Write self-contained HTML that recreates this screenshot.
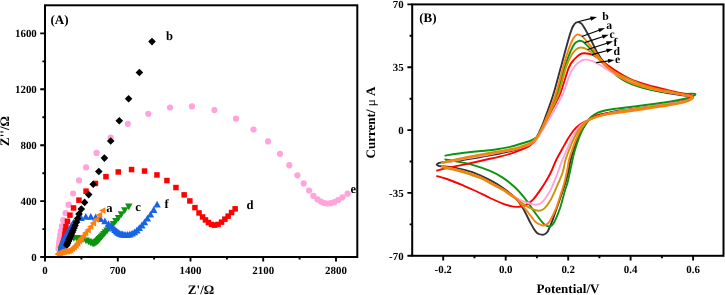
<!DOCTYPE html>
<html><head><meta charset="utf-8"><title>EIS and CV</title>
<style>
html,body{margin:0;padding:0;background:#fff}
svg{display:block}
text{text-rendering:geometricPrecision;font-family:"Liberation Serif",serif;font-weight:bold;fill:#000}
</style></head><body>
<svg width="725" height="295" viewBox="0 0 725 295">
<rect width="725" height="295" fill="#fff"/>
<!-- Panel A -->
<g fill="#ffa3da"><circle cx="347.6" cy="193.7" r="3.1"/><circle cx="342.5" cy="197.3" r="3.1"/><circle cx="338.1" cy="200.0" r="3.1"/><circle cx="334.3" cy="202.2" r="3.1"/><circle cx="330.8" cy="203.2" r="3.1"/><circle cx="327.5" cy="203.5" r="3.1"/><circle cx="324.3" cy="203.0" r="3.1"/><circle cx="321.0" cy="201.6" r="3.1"/><circle cx="317.5" cy="199.4" r="3.1"/><circle cx="313.4" cy="195.9" r="3.1"/><circle cx="309.1" cy="190.5" r="3.1"/><circle cx="303.7" cy="183.4" r="3.1"/><circle cx="297.4" cy="175.3" r="3.1"/><circle cx="289.3" cy="165.2" r="3.1"/><circle cx="280.0" cy="153.8" r="3.1"/><circle cx="268.0" cy="141.4" r="3.1"/><circle cx="253.5" cy="129.5" r="3.1"/><circle cx="236.0" cy="118.7" r="3.1"/><circle cx="214.4" cy="110.1" r="3.1"/><circle cx="192.0" cy="106.4" r="3.1"/><circle cx="170.0" cy="107.5" r="3.1"/><circle cx="148.3" cy="113.8" r="3.1"/><circle cx="127.8" cy="123.8" r="3.1"/><circle cx="110.7" cy="137.6" r="3.1"/><circle cx="96.6" cy="152.9" r="3.1"/><circle cx="86.1" cy="167.4" r="3.1"/><circle cx="79.0" cy="180.4" r="3.1"/><circle cx="73.1" cy="193.5" r="3.1"/><circle cx="68.6" cy="204.7" r="3.1"/><circle cx="65.6" cy="213.2" r="3.1"/><circle cx="63.2" cy="220.2" r="3.1"/><circle cx="61.9" cy="226.1" r="3.1"/><circle cx="60.8" cy="230.9" r="3.1"/><circle cx="60.2" cy="234.9" r="3.1"/><circle cx="59.8" cy="238.3" r="3.1"/><circle cx="59.5" cy="241.0" r="3.1"/><circle cx="59.2" cy="243.2" r="3.1"/><circle cx="59.0" cy="245.0" r="3.1"/><circle cx="58.9" cy="246.5" r="3.1"/><circle cx="58.7" cy="247.8" r="3.1"/><circle cx="58.6" cy="249.0" r="3.1"/></g>
<g fill="#ff0000"><rect x="232.4" y="206.1" width="5.5" height="5.5"/><rect x="228.8" y="209.8" width="5.5" height="5.5"/><rect x="225.4" y="213.4" width="5.5" height="5.5"/><rect x="222.1" y="216.4" width="5.5" height="5.5"/><rect x="218.8" y="219.4" width="5.5" height="5.5"/><rect x="215.3" y="221.7" width="5.5" height="5.5"/><rect x="211.9" y="222.4" width="5.5" height="5.5"/><rect x="208.7" y="221.7" width="5.5" height="5.5"/><rect x="205.7" y="219.8" width="5.5" height="5.5"/><rect x="202.7" y="217.2" width="5.5" height="5.5"/><rect x="199.8" y="214.2" width="5.5" height="5.5"/><rect x="196.3" y="210.2" width="5.5" height="5.5"/><rect x="192.2" y="204.9" width="5.5" height="5.5"/><rect x="187.1" y="198.2" width="5.5" height="5.5"/><rect x="181.4" y="192.1" width="5.5" height="5.5"/><rect x="173.2" y="184.8" width="5.5" height="5.5"/><rect x="164.2" y="177.8" width="5.5" height="5.5"/><rect x="154.2" y="172.2" width="5.5" height="5.5"/><rect x="141.8" y="168.3" width="5.5" height="5.5"/><rect x="128.8" y="166.8" width="5.5" height="5.5"/><rect x="115.5" y="169.2" width="5.5" height="5.5"/><rect x="103.2" y="173.9" width="5.5" height="5.5"/><rect x="92.7" y="180.7" width="5.5" height="5.5"/><rect x="83.3" y="188.4" width="5.5" height="5.5"/><rect x="76.2" y="197.4" width="5.5" height="5.5"/><rect x="70.8" y="205.2" width="5.5" height="5.5"/><rect x="67.2" y="212.4" width="5.5" height="5.5"/><rect x="64.7" y="218.5" width="5.5" height="5.5"/><rect x="63.2" y="223.7" width="5.5" height="5.5"/><rect x="62.6" y="228.0" width="5.5" height="5.5"/><rect x="62.2" y="231.6" width="5.5" height="5.5"/><rect x="61.9" y="234.6" width="5.5" height="5.5"/><rect x="61.4" y="236.9" width="5.5" height="5.5"/><rect x="60.9" y="238.8" width="5.5" height="5.5"/><rect x="60.4" y="240.4" width="5.5" height="5.5"/><rect x="60.0" y="241.7" width="5.5" height="5.5"/><rect x="59.7" y="242.8" width="5.5" height="5.5"/><rect x="59.3" y="244.0" width="5.5" height="5.5"/><rect x="59.0" y="245.1" width="5.5" height="5.5"/><rect x="58.7" y="246.3" width="5.5" height="5.5"/><rect x="58.3" y="247.5" width="5.5" height="5.5"/></g>
<g fill="#0c930f"><path d="M61.2 254.0l3.7 -6.8h-7.4z"/><path d="M61.6 253.3l3.7 -6.8h-7.4z"/><path d="M61.9 252.6l3.7 -6.8h-7.4z"/><path d="M62.3 251.8l3.7 -6.8h-7.4z"/><path d="M62.7 251.1l3.7 -6.8h-7.4z"/><path d="M63.1 250.4l3.7 -6.8h-7.4z"/><path d="M63.4 249.7l3.7 -6.8h-7.4z"/><path d="M63.8 249.0l3.7 -6.8h-7.4z"/><path d="M64.3 248.3l3.7 -6.8h-7.4z"/><path d="M64.8 247.5l3.7 -6.8h-7.4z"/><path d="M65.3 246.5l3.7 -6.8h-7.4z"/><path d="M66.0 245.4l3.7 -6.8h-7.4z"/><path d="M66.9 244.3l3.7 -6.8h-7.4z"/><path d="M68.0 243.1l3.7 -6.8h-7.4z"/><path d="M69.5 242.2l3.7 -6.8h-7.4z"/><path d="M71.5 241.8l3.7 -6.8h-7.4z"/><path d="M73.9 241.7l3.7 -6.8h-7.4z"/><path d="M76.6 241.9l3.7 -6.8h-7.4z"/><path d="M79.7 242.1l3.7 -6.8h-7.4z"/><path d="M83.0 243.1l3.7 -6.8h-7.4z"/><path d="M86.0 244.2l3.7 -6.8h-7.4z"/><path d="M88.5 245.3l3.7 -6.8h-7.4z"/><path d="M90.5 246.3l3.7 -6.8h-7.4z"/><path d="M92.3 246.9l3.7 -6.8h-7.4z"/><path d="M93.8 247.2l3.7 -6.8h-7.4z"/><path d="M94.9 246.7l3.7 -6.8h-7.4z"/><path d="M95.9 246.1l3.7 -6.8h-7.4z"/><path d="M96.9 245.4l3.7 -6.8h-7.4z"/><path d="M97.8 244.6l3.7 -6.8h-7.4z"/><path d="M98.6 243.7l3.7 -6.8h-7.4z"/><path d="M99.4 242.8l3.7 -6.8h-7.4z"/><path d="M100.3 241.7l3.7 -6.8h-7.4z"/><path d="M101.4 240.5l3.7 -6.8h-7.4z"/><path d="M102.6 239.2l3.7 -6.8h-7.4z"/><path d="M103.9 237.7l3.7 -6.8h-7.4z"/><path d="M105.4 236.1l3.7 -6.8h-7.4z"/><path d="M107.1 234.3l3.7 -6.8h-7.4z"/><path d="M109.0 232.3l3.7 -6.8h-7.4z"/><path d="M111.0 230.1l3.7 -6.8h-7.4z"/><path d="M113.4 227.7l3.7 -6.8h-7.4z"/><path d="M115.8 224.8l3.7 -6.8h-7.4z"/><path d="M118.5 221.7l3.7 -6.8h-7.4z"/><path d="M121.4 218.1l3.7 -6.8h-7.4z"/><path d="M124.7 214.1l3.7 -6.8h-7.4z"/><path d="M128.8 210.2l3.7 -6.8h-7.4z"/></g>
<g fill="#1863e6"><path d="M60.5 247.5l3.7 6.8h-7.4z"/><path d="M60.8 246.8l3.7 6.8h-7.4z"/><path d="M61.0 246.0l3.7 6.8h-7.4z"/><path d="M61.3 245.3l3.7 6.8h-7.4z"/><path d="M61.5 244.5l3.7 6.8h-7.4z"/><path d="M61.7 243.7l3.7 6.8h-7.4z"/><path d="M61.9 243.0l3.7 6.8h-7.4z"/><path d="M62.2 242.2l3.7 6.8h-7.4z"/><path d="M62.4 241.4l3.7 6.8h-7.4z"/><path d="M62.6 240.7l3.7 6.8h-7.4z"/><path d="M62.9 239.9l3.7 6.8h-7.4z"/><path d="M63.2 239.1l3.7 6.8h-7.4z"/><path d="M63.4 238.4l3.7 6.8h-7.4z"/><path d="M63.7 237.6l3.7 6.8h-7.4z"/><path d="M63.9 236.9l3.7 6.8h-7.4z"/><path d="M64.2 236.1l3.7 6.8h-7.4z"/><path d="M64.5 235.2l3.7 6.8h-7.4z"/><path d="M64.9 234.3l3.7 6.8h-7.4z"/><path d="M65.5 233.2l3.7 6.8h-7.4z"/><path d="M66.1 231.9l3.7 6.8h-7.4z"/><path d="M66.8 230.4l3.7 6.8h-7.4z"/><path d="M67.7 228.7l3.7 6.8h-7.4z"/><path d="M68.9 226.7l3.7 6.8h-7.4z"/><path d="M70.2 224.4l3.7 6.8h-7.4z"/><path d="M71.7 221.8l3.7 6.8h-7.4z"/><path d="M73.5 218.7l3.7 6.8h-7.4z"/><path d="M76.8 216.2l3.7 6.8h-7.4z"/><path d="M81.0 214.1l3.7 6.8h-7.4z"/><path d="M85.8 212.9l3.7 6.8h-7.4z"/><path d="M90.8 212.9l3.7 6.8h-7.4z"/><path d="M95.7 213.6l3.7 6.8h-7.4z"/><path d="M100.5 215.1l3.7 6.8h-7.4z"/><path d="M104.9 217.4l3.7 6.8h-7.4z"/><path d="M108.5 220.2l3.7 6.8h-7.4z"/><path d="M111.3 222.5l3.7 6.8h-7.4z"/><path d="M113.4 224.6l3.7 6.8h-7.4z"/><path d="M115.0 226.3l3.7 6.8h-7.4z"/><path d="M116.4 227.5l3.7 6.8h-7.4z"/><path d="M117.6 228.4l3.7 6.8h-7.4z"/><path d="M118.8 229.2l3.7 6.8h-7.4z"/><path d="M119.9 229.9l3.7 6.8h-7.4z"/><path d="M121.3 230.4l3.7 6.8h-7.4z"/><path d="M122.6 230.7l3.7 6.8h-7.4z"/><path d="M124.0 230.9l3.7 6.8h-7.4z"/><path d="M125.8 231.2l3.7 6.8h-7.4z"/><path d="M127.7 231.0l3.7 6.8h-7.4z"/><path d="M129.9 230.6l3.7 6.8h-7.4z"/><path d="M132.2 229.7l3.7 6.8h-7.4z"/><path d="M134.5 228.4l3.7 6.8h-7.4z"/><path d="M136.9 226.6l3.7 6.8h-7.4z"/><path d="M139.3 224.3l3.7 6.8h-7.4z"/><path d="M141.9 221.6l3.7 6.8h-7.4z"/><path d="M144.5 218.4l3.7 6.8h-7.4z"/><path d="M147.4 214.8l3.7 6.8h-7.4z"/><path d="M150.5 210.8l3.7 6.8h-7.4z"/><path d="M153.7 206.1l3.7 6.8h-7.4z"/><path d="M157.1 200.8l3.7 6.8h-7.4z"/></g>
<g fill="#000"><path d="M152.0 37.8l3.8 3.8l-3.8 3.8l-3.8 -3.8z"/><path d="M139.4 68.7l3.8 3.8l-3.8 3.8l-3.8 -3.8z"/><path d="M128.6 95.0l3.8 3.8l-3.8 3.8l-3.8 -3.8z"/><path d="M119.3 117.0l3.8 3.8l-3.8 3.8l-3.8 -3.8z"/><path d="M110.7 137.2l3.8 3.8l-3.8 3.8l-3.8 -3.8z"/><path d="M104.4 154.3l3.8 3.8l-3.8 3.8l-3.8 -3.8z"/><path d="M98.8 167.7l3.8 3.8l-3.8 3.8l-3.8 -3.8z"/><path d="M93.2 180.4l3.8 3.8l-3.8 3.8l-3.8 -3.8z"/><path d="M88.7 190.8l3.8 3.8l-3.8 3.8l-3.8 -3.8z"/><path d="M84.6 198.6l3.8 3.8l-3.8 3.8l-3.8 -3.8z"/><path d="M81.3 205.3l3.8 3.8l-3.8 3.8l-3.8 -3.8z"/><path d="M79.0 210.3l3.8 3.8l-3.8 3.8l-3.8 -3.8z"/><path d="M77.6 214.8l3.8 3.8l-3.8 3.8l-3.8 -3.8z"/><path d="M76.4 218.5l3.8 3.8l-3.8 3.8l-3.8 -3.8z"/><path d="M75.1 221.7l3.8 3.8l-3.8 3.8l-3.8 -3.8z"/><path d="M74.0 224.3l3.8 3.8l-3.8 3.8l-3.8 -3.8z"/><path d="M73.0 226.6l3.8 3.8l-3.8 3.8l-3.8 -3.8z"/><path d="M72.2 228.5l3.8 3.8l-3.8 3.8l-3.8 -3.8z"/><path d="M71.4 230.3l3.8 3.8l-3.8 3.8l-3.8 -3.8z"/><path d="M70.6 232.1l3.8 3.8l-3.8 3.8l-3.8 -3.8z"/><path d="M69.8 234.0l3.8 3.8l-3.8 3.8l-3.8 -3.8z"/><path d="M69.0 235.8l3.8 3.8l-3.8 3.8l-3.8 -3.8z"/><path d="M68.3 237.7l3.8 3.8l-3.8 3.8l-3.8 -3.8z"/><path d="M67.5 239.5l3.8 3.8l-3.8 3.8l-3.8 -3.8z"/><path d="M66.8 241.3l3.8 3.8l-3.8 3.8l-3.8 -3.8z"/></g>
<g fill="#ff7f0e"><path d="M54.5 254.3l6.4 -3.4v6.8z"/><path d="M55.1 253.8l6.4 -3.4v6.8z"/><path d="M55.7 253.3l6.4 -3.4v6.8z"/><path d="M56.4 252.8l6.4 -3.4v6.8z"/><path d="M57.1 252.4l6.4 -3.4v6.8z"/><path d="M57.8 252.1l6.4 -3.4v6.8z"/><path d="M58.7 251.8l6.4 -3.4v6.8z"/><path d="M59.7 251.7l6.4 -3.4v6.8z"/><path d="M60.8 251.6l6.4 -3.4v6.8z"/><path d="M62.1 251.4l6.4 -3.4v6.8z"/><path d="M63.6 251.3l6.4 -3.4v6.8z"/><path d="M65.2 250.9l6.4 -3.4v6.8z"/><path d="M66.9 250.0l6.4 -3.4v6.8z"/><path d="M68.7 248.7l6.4 -3.4v6.8z"/><path d="M70.5 247.2l6.4 -3.4v6.8z"/><path d="M72.2 245.4l6.4 -3.4v6.8z"/><path d="M73.9 243.3l6.4 -3.4v6.8z"/><path d="M75.7 241.0l6.4 -3.4v6.8z"/><path d="M77.6 238.5l6.4 -3.4v6.8z"/><path d="M79.7 235.9l6.4 -3.4v6.8z"/><path d="M81.9 233.0l6.4 -3.4v6.8z"/><path d="M84.4 230.0l6.4 -3.4v6.8z"/><path d="M87.0 226.7l6.4 -3.4v6.8z"/><path d="M89.7 223.1l6.4 -3.4v6.8z"/><path d="M92.7 219.3l6.4 -3.4v6.8z"/><path d="M95.8 215.1l6.4 -3.4v6.8z"/><path d="M99.1 210.6l6.4 -3.4v6.8z"/></g>
<rect x="45.0" y="5.3" width="312.3" height="251.7" fill="none" stroke="#000" stroke-width="2"/>
<path d="M45.0 257.0v4.6M81.4 257.0v2.4M117.8 257.0v4.6M154.1 257.0v2.4M190.5 257.0v4.6M226.9 257.0v2.4M263.2 257.0v4.6M299.6 257.0v2.4M336.0 257.0v4.6M45.0 257.0h-4.8M45.0 229.1h-2.6M45.0 201.1h-4.8M45.0 173.2h-2.6M45.0 145.2h-4.8M45.0 117.3h-2.6M45.0 89.3h-4.8M45.0 61.4h-2.6M45.0 33.4h-4.8" stroke="#000" stroke-width="1.9" fill="none"/>
<g font-size="10.9"><text x="45.0" y="274" text-anchor="middle">0</text><text x="117.8" y="274" text-anchor="middle">700</text><text x="190.5" y="274" text-anchor="middle">1400</text><text x="263.2" y="274" text-anchor="middle">2100</text><text x="336.0" y="274" text-anchor="middle">2800</text><text x="36.8" y="260.7" text-anchor="end">0</text><text x="36.8" y="204.8" text-anchor="end">400</text><text x="36.8" y="148.9" text-anchor="end">800</text><text x="36.8" y="93.0" text-anchor="end">1200</text><text x="36.8" y="37.1" text-anchor="end">1600</text></g>
<text x="50.5" y="24" font-size="13">(A)</text>
<text x="201" y="293.8" font-size="13" text-anchor="middle">Z'/&#937;</text>
<text transform="translate(9,131) rotate(-90)" font-size="13" text-anchor="middle">Z''/&#937;</text>
<g font-size="12.6">
<text x="166" y="40">b</text>
<text x="106.2" y="212">a</text>
<text x="135.3" y="210.8">c</text>
<text x="164.5" y="208.3">f</text>
<text x="246.6" y="209.3">d</text>
<text x="350.5" y="193">e</text>
</g>
<!-- Panel B -->
<g fill="none" stroke-width="1.9" stroke-linejoin="round" stroke-linecap="round"><path d="M436.8 164.6C437.1 164.4 437.8 163.5 438.5 163.2C439.2 162.9 439.9 162.8 441.0 162.6C442.1 162.4 441.8 162.4 445.0 162.0C448.2 161.6 455.5 161.0 460.5 160.3C465.5 159.6 470.1 158.8 475.0 158.0C479.9 157.2 485.8 156.1 490.0 155.3C494.2 154.6 496.7 154.2 500.0 153.5C503.3 152.8 506.7 152.1 510.0 151.3C513.3 150.5 516.7 149.8 520.0 148.6C523.3 147.4 527.3 145.9 530.0 144.2C532.7 142.5 534.3 140.5 536.0 138.2C537.7 135.9 538.7 133.2 540.0 130.5C541.3 127.8 542.3 125.4 543.6 122.0C544.9 118.6 546.3 114.7 548.0 110.0C549.7 105.3 551.5 100.7 553.6 93.6C555.7 86.5 558.4 76.2 560.8 67.6C563.2 58.9 565.9 48.2 567.8 41.7C569.6 35.2 570.8 31.6 571.9 28.7C573.0 25.8 573.6 25.1 574.5 24.0C575.4 22.9 576.5 22.3 577.5 22.1C578.5 21.9 579.5 22.4 580.5 23.0C581.5 23.6 581.6 23.3 583.2 25.9C584.9 28.5 588.0 34.2 590.4 38.8C592.8 43.3 595.2 49.1 597.6 53.2C600.0 57.3 602.4 60.4 604.8 63.3C607.2 66.2 608.4 67.6 612.0 70.5C615.6 73.4 621.8 77.9 626.5 80.6C631.2 83.2 635.2 84.8 640.0 86.4C644.8 88.1 649.9 89.3 655.0 90.5C660.1 91.7 665.8 92.7 670.8 93.5C675.8 94.3 681.3 95.0 685.0 95.5C688.7 96.0 692.2 96.2 693.0 96.8C693.8 97.4 691.6 98.2 690.0 99.0C688.4 99.8 686.8 100.8 683.6 101.5C680.4 102.2 677.2 102.5 670.8 103.5C664.4 104.5 653.9 106.3 645.4 107.5C636.9 108.7 626.6 109.5 620.0 110.5C613.4 111.5 609.7 112.6 606.0 113.5C602.3 114.4 600.6 114.8 597.9 115.8C595.1 116.8 591.5 118.3 589.5 119.7C587.5 121.1 587.2 122.0 585.8 124.0C584.4 126.0 582.5 128.7 581.0 131.5C579.5 134.3 578.3 137.3 577.0 140.7C575.7 144.1 574.1 148.7 573.0 151.9C571.9 155.1 571.4 156.7 570.6 160.0C569.8 163.3 569.2 168.0 568.3 172.0C567.4 176.0 566.2 180.2 565.0 184.0C563.8 187.8 562.7 191.0 561.3 195.0C559.9 199.0 558.2 203.9 556.7 208.2C555.2 212.5 553.8 217.1 552.3 220.9C550.8 224.7 549.2 228.8 548.0 231.0C546.8 233.2 546.0 233.4 545.0 234.0C544.0 234.6 543.2 234.7 542.2 234.7C541.2 234.7 540.1 234.5 539.0 234.0C537.9 233.5 537.2 233.4 535.8 231.6C534.4 229.8 532.8 227.3 530.7 223.4C528.6 219.5 525.5 212.4 523.0 208.2C520.5 204.0 518.8 201.4 515.4 198.0C512.0 194.6 506.9 190.8 502.7 187.8C498.5 184.8 495.1 182.8 490.0 180.2C484.9 177.6 478.2 174.3 472.4 172.2C466.6 170.1 459.6 168.8 455.0 167.8C450.4 166.9 447.3 166.8 445.0 166.5C442.7 166.2 442.1 166.4 441.0 166.3C439.9 166.2 439.2 166.1 438.5 165.8C437.8 165.5 437.1 164.8 436.8 164.6" stroke="#333333"/><path d="M445.3 155.6C448.4 155.1 456.4 153.6 463.9 152.7C471.3 151.8 484.0 150.8 490.0 150.2C496.0 149.5 496.7 149.4 500.0 148.8C503.3 148.2 506.7 147.6 510.0 146.8C513.3 146.0 516.7 145.0 520.0 144.0C523.3 143.0 527.2 142.1 530.0 141.0C532.8 139.9 534.8 138.9 536.6 137.2C538.4 135.4 539.4 132.9 540.7 130.5C542.0 128.1 543.1 126.1 544.5 123.0C545.9 119.9 547.2 116.9 549.3 112.0C551.4 107.1 554.8 101.0 557.3 93.6C559.8 86.2 562.3 74.6 564.5 67.6C566.7 60.6 568.6 55.8 570.3 51.8C572.0 47.8 573.2 45.5 574.6 43.7C576.0 41.9 577.7 41.2 578.9 40.8C580.1 40.4 581.0 40.9 582.0 41.3C583.0 41.7 582.8 41.4 584.7 43.1C586.6 44.9 590.4 48.7 593.3 51.8C596.2 54.9 598.9 58.5 602.0 61.9C605.1 65.3 607.9 68.7 612.0 72.0C616.1 75.3 621.8 79.5 626.5 82.0C631.2 84.5 635.2 85.8 640.0 87.2C644.8 88.6 649.9 89.6 655.0 90.5C660.1 91.4 665.8 92.2 670.8 92.8C675.8 93.3 681.0 93.6 685.0 93.8C689.0 94.0 693.7 93.4 695.0 93.8C696.3 94.2 694.9 95.1 693.0 96.0C691.1 96.9 687.3 98.1 683.6 99.0C679.9 99.9 677.2 100.5 670.8 101.5C664.4 102.5 653.9 103.9 645.4 105.0C636.9 106.1 625.1 107.7 620.0 108.3C614.9 108.9 617.3 108.4 615.0 108.7C612.7 109.0 608.9 109.6 606.0 110.2C603.1 110.8 600.4 111.4 597.9 112.6C595.4 113.8 592.8 115.4 590.8 117.3C588.8 119.2 587.2 121.6 585.7 124.0C584.2 126.4 583.0 128.6 581.6 131.5C580.2 134.4 578.9 138.1 577.6 141.7C576.4 145.3 575.0 149.8 574.1 152.9C573.2 156.0 573.1 157.2 572.5 160.0C571.9 162.8 571.1 166.3 570.3 170.0C569.5 173.7 568.6 178.6 567.7 182.0C566.8 185.4 566.3 186.0 565.0 190.4C563.7 194.8 561.7 203.1 560.0 208.2C558.3 213.3 556.2 218.1 554.9 220.9C553.6 223.8 553.0 224.4 552.0 225.3C551.0 226.2 550.0 226.4 549.0 226.4C548.0 226.4 547.1 226.2 546.0 225.5C544.9 224.8 544.1 224.4 542.2 222.2C540.3 219.9 537.3 215.8 534.5 212.0C531.7 208.2 528.8 203.3 525.6 199.3C522.4 195.3 519.2 191.4 515.4 187.8C511.6 184.2 506.9 180.4 502.7 177.6C498.5 174.8 495.1 172.9 490.0 170.8C484.9 168.7 477.6 166.3 472.4 164.8C467.2 163.3 463.3 162.7 458.8 161.8C454.3 160.9 447.6 159.9 445.3 159.5" stroke="#0c930f"/><path d="M437.1 170.5C438.8 170.1 442.5 169.0 447.0 168.0C451.5 167.0 456.7 166.1 463.9 164.6C471.1 163.1 484.0 160.2 490.0 158.8C496.0 157.5 496.7 157.3 500.0 156.5C503.3 155.7 506.7 154.9 510.0 153.8C513.3 152.8 516.7 151.6 520.0 150.2C523.3 148.8 527.2 147.3 530.0 145.4C532.8 143.5 534.9 141.0 536.8 138.6C538.7 136.2 539.8 133.8 541.3 131.0C542.8 128.2 544.2 125.2 545.8 122.0C547.4 118.8 548.6 116.2 551.0 111.5C553.4 106.8 557.2 100.9 560.2 93.6C563.2 86.3 566.4 73.4 568.8 67.6C571.2 61.8 572.7 61.2 574.6 59.0C576.5 56.8 578.6 55.1 580.3 54.1C582.0 53.1 582.8 53.1 584.7 53.2C586.6 53.3 589.3 53.6 591.9 54.7C594.5 55.8 597.6 57.7 600.5 59.6C603.4 61.5 606.3 64.1 609.2 66.2C612.1 68.3 614.4 69.9 617.8 72.0C621.1 74.1 625.6 76.8 629.3 78.6C633.0 80.4 635.7 81.2 640.0 82.6C644.3 84.0 649.9 85.6 655.0 87.0C660.1 88.4 665.8 89.8 670.8 91.0C675.8 92.2 681.5 93.2 685.0 94.0C688.5 94.8 691.2 94.8 692.0 95.5C692.8 96.2 691.4 97.6 690.0 98.5C688.6 99.4 686.8 100.2 683.6 101.0C680.4 101.8 677.2 102.4 670.8 103.5C664.4 104.6 653.9 106.2 645.4 107.5C636.9 108.8 627.6 109.8 620.0 111.0C612.4 112.2 604.7 113.3 600.0 114.5C595.3 115.7 594.4 116.8 592.0 118.0C589.6 119.2 587.8 120.3 585.7 121.4C583.6 122.5 581.6 123.3 579.6 124.8C577.6 126.3 575.5 128.0 573.5 130.5C571.5 133.0 569.3 136.6 567.4 139.7C565.5 142.8 564.2 145.4 562.3 148.8C560.4 152.2 558.1 156.1 556.2 160.0C554.3 163.9 552.5 168.8 551.0 172.0C549.5 175.2 549.0 176.1 547.3 178.9C545.6 181.8 543.2 185.7 540.9 189.1C538.6 192.5 535.8 196.6 533.3 199.3C530.8 202.0 527.6 203.9 525.6 205.1C523.6 206.3 522.5 206.2 521.0 206.5C519.5 206.8 518.5 207.0 516.7 206.9C514.9 206.8 512.3 206.4 510.0 205.8C507.7 205.2 506.0 204.9 502.7 203.6C499.4 202.3 494.5 200.1 490.0 198.0C485.5 195.9 480.1 193.0 475.7 191.0C471.3 189.0 468.7 187.8 463.9 185.8C459.1 183.8 451.5 180.6 447.0 179.0C442.5 177.4 438.8 176.6 437.1 176.1" stroke="#ff0000"/><path d="M442.0 163.0C445.6 162.3 455.9 160.3 463.9 158.8C471.9 157.3 484.0 155.3 490.0 154.2C496.0 153.1 496.7 153.0 500.0 152.4C503.3 151.8 506.7 151.1 510.0 150.4C513.3 149.7 516.7 149.0 520.0 148.0C523.3 147.0 527.2 145.8 530.0 144.2C532.8 142.6 534.8 140.6 536.8 138.4C538.8 136.2 540.2 133.7 542.0 131.0C543.8 128.3 545.6 125.2 547.5 122.0C549.4 118.8 550.9 116.2 553.5 111.5C556.1 106.8 560.2 99.9 563.0 93.6C565.8 87.2 568.1 78.2 570.3 73.4C572.5 68.6 574.1 67.0 576.0 64.8C577.9 62.6 580.1 61.3 581.8 60.4C583.5 59.5 584.2 59.5 586.1 59.6C588.0 59.8 590.9 60.3 593.3 61.3C595.7 62.2 597.9 63.7 600.5 65.3C603.1 66.9 606.3 69.0 609.2 70.8C612.1 72.6 614.7 74.2 618.0 76.0C621.3 77.8 625.3 79.7 629.0 81.3C632.7 82.9 635.7 84.2 640.0 85.6C644.3 87.0 649.9 88.4 655.0 89.6C660.1 90.8 665.8 91.7 670.8 92.6C675.8 93.5 681.5 94.4 685.0 95.0C688.5 95.6 691.2 95.7 692.0 96.4C692.8 97.1 691.4 98.2 690.0 99.0C688.6 99.8 686.8 100.8 683.6 101.5C680.4 102.2 677.2 102.5 670.8 103.5C664.4 104.5 653.9 106.2 645.4 107.5C636.9 108.8 627.1 110.1 620.0 111.3C612.9 112.5 607.7 113.6 603.0 114.8C598.3 116.0 594.8 117.4 592.0 118.5C589.2 119.6 587.9 120.3 586.0 121.5C584.1 122.7 582.5 123.4 580.6 125.4C578.7 127.4 576.4 130.5 574.5 133.6C572.6 136.7 570.9 140.6 569.4 143.8C567.9 147.0 566.6 150.2 565.4 152.9C564.2 155.6 563.5 156.8 562.3 160.0C561.1 163.2 559.2 168.6 558.0 172.0C556.8 175.4 556.1 177.3 554.9 180.2C553.7 183.0 552.7 185.9 551.0 189.1C549.3 192.3 546.4 197.0 544.7 199.3C543.0 201.6 542.3 202.1 541.0 203.0C539.7 203.9 538.3 204.4 537.0 204.6C535.7 204.8 534.5 204.7 533.0 204.4C531.5 204.1 530.1 203.7 528.0 203.0C525.9 202.3 523.5 201.4 520.5 200.0C517.5 198.6 513.0 196.2 510.0 194.5C507.0 192.8 506.0 191.5 502.7 189.5C499.4 187.5 493.6 184.5 490.0 182.5C486.4 180.5 485.2 179.4 480.8 177.6C476.4 175.8 469.0 173.2 463.9 171.7C458.8 170.1 453.6 169.1 450.0 168.3C446.4 167.5 443.3 167.2 442.0 167.0" stroke="#ffa3da"/><path d="M442.7 162.4C446.2 161.6 456.0 159.2 463.9 157.6C471.8 156.0 484.0 153.9 490.0 152.8C496.0 151.7 496.7 151.8 500.0 151.2C503.3 150.6 506.7 150.0 510.0 149.3C513.3 148.6 516.7 147.8 520.0 146.8C523.3 145.8 527.2 144.7 530.0 143.2C532.8 141.7 534.7 139.7 536.6 137.6C538.5 135.5 539.8 132.9 541.2 130.5C542.7 128.1 543.8 126.1 545.3 123.0C546.8 119.9 548.1 116.9 550.3 112.0C552.5 107.1 556.1 101.0 558.7 93.6C561.3 86.2 563.7 74.1 565.9 67.6C568.1 61.1 570.0 57.7 571.7 54.7C573.4 51.7 574.5 50.7 576.0 49.5C577.5 48.3 579.0 47.5 580.9 47.5C582.8 47.5 585.0 48.3 587.6 49.8C590.2 51.3 593.3 54.1 596.2 56.7C599.1 59.3 601.7 62.7 604.8 65.3C607.9 67.9 611.3 70.0 614.9 72.2C618.5 74.4 622.3 76.3 626.5 78.2C630.7 80.1 635.2 82.1 640.0 83.8C644.8 85.5 649.9 87.0 655.0 88.3C660.1 89.6 665.8 90.7 670.8 91.8C675.8 92.9 681.5 94.0 685.0 94.8C688.5 95.6 691.2 95.8 692.0 96.5C692.8 97.2 691.4 98.1 690.0 99.0C688.6 99.9 686.8 101.0 683.6 101.8C680.4 102.6 677.2 103.0 670.8 104.0C664.4 105.0 653.9 106.3 645.4 107.6C636.9 108.8 626.7 110.3 620.0 111.5C613.3 112.7 609.2 113.5 605.0 114.5C600.8 115.5 597.9 116.5 595.0 117.5C592.1 118.5 589.8 119.4 587.7 120.6C585.6 121.8 584.3 123.0 582.6 124.8C580.9 126.6 579.3 128.7 577.6 131.5C575.9 134.3 574.0 138.3 572.5 141.7C571.0 145.1 569.6 148.8 568.4 151.9C567.2 155.0 566.3 156.7 565.4 160.0C564.5 163.3 564.1 167.8 562.8 172.0C561.5 176.2 559.4 180.8 557.4 185.3C555.4 189.9 553.1 195.5 551.0 199.3C548.9 203.1 546.4 206.4 544.7 208.2C543.0 210.0 542.1 209.9 541.0 210.3C539.9 210.7 539.3 210.8 538.3 210.7C537.3 210.6 536.2 210.4 535.0 210.0C533.8 209.6 532.6 209.0 531.0 208.3C529.4 207.6 527.8 206.9 525.6 205.6C523.4 204.2 520.6 202.0 518.0 200.2C515.4 198.4 512.5 196.7 510.0 195.0C507.4 193.3 506.0 192.0 502.7 190.0C499.4 188.0 493.6 185.1 490.0 183.2C486.4 181.3 485.2 180.2 480.8 178.4C476.4 176.6 469.0 174.1 463.9 172.5C458.8 170.9 453.5 169.8 450.0 169.0C446.5 168.2 443.9 167.8 442.7 167.6" stroke="#c8960a"/><path d="M442.7 162.9C443.9 162.6 446.5 162.0 450.0 161.2C453.5 160.4 459.4 159.2 463.9 158.3C468.4 157.4 472.6 156.6 477.0 155.8C481.4 155.0 486.2 154.3 490.0 153.7C493.8 153.1 496.7 152.7 500.0 152.1C503.3 151.5 506.7 150.9 510.0 150.2C513.3 149.5 516.7 148.9 520.0 147.8C523.3 146.8 527.2 145.6 530.0 143.9C532.8 142.2 534.8 140.0 536.6 137.8C538.4 135.6 539.5 133.0 540.8 130.5C542.1 128.0 542.9 126.1 544.2 123.0C545.5 119.9 546.8 116.9 548.8 112.0C550.8 107.1 553.5 101.0 555.9 93.6C558.3 86.2 560.9 75.0 563.0 67.6C565.1 60.1 567.1 53.7 568.8 48.9C570.5 44.1 571.8 41.2 573.1 38.8C574.5 36.4 575.8 35.1 576.9 34.5C578.0 33.9 579.0 34.7 580.0 35.2C581.0 35.7 581.2 35.4 583.2 37.4C585.2 39.4 589.0 43.9 591.9 47.5C594.8 51.1 597.1 55.1 600.5 59.0C603.9 62.9 607.7 67.5 612.0 71.1C616.3 74.7 621.8 78.2 626.5 80.6C631.2 83.0 635.2 84.0 640.0 85.5C644.8 87.0 649.9 88.3 655.0 89.5C660.1 90.7 665.8 91.6 670.8 92.5C675.8 93.4 681.4 94.3 685.0 95.0C688.6 95.7 691.5 96.0 692.5 96.8C693.5 97.6 692.5 98.8 691.0 99.8C689.5 100.8 687.0 101.7 683.6 102.6C680.2 103.5 677.2 103.9 670.8 105.0C664.4 106.1 653.9 107.7 645.4 109.0C636.9 110.3 626.6 111.7 620.0 112.6C613.4 113.5 609.7 114.0 606.0 114.6C602.3 115.2 600.8 115.4 597.9 116.3C595.0 117.2 591.0 118.6 588.8 119.9C586.6 121.2 586.2 122.1 584.7 124.0C583.2 125.9 581.1 128.7 579.6 131.5C578.1 134.3 576.9 137.3 575.5 140.7C574.1 144.1 572.6 148.7 571.5 151.9C570.4 155.1 569.7 157.0 569.0 160.0C568.3 163.0 568.0 166.0 567.2 170.0C566.4 174.0 565.0 180.2 564.0 184.0C563.0 187.8 562.5 188.9 561.2 192.9C559.9 196.9 558.1 203.5 556.2 208.2C554.3 212.9 551.4 218.2 549.8 220.9C548.2 223.6 547.6 223.7 546.5 224.5C545.4 225.3 544.6 225.6 543.4 225.5C542.1 225.4 540.5 224.8 539.0 224.0C537.5 223.2 536.7 223.3 534.5 220.9C532.3 218.5 528.8 213.2 525.6 209.4C522.4 205.6 519.2 201.4 515.4 198.0C511.6 194.6 506.9 191.7 502.7 189.1C498.5 186.5 493.6 184.2 490.0 182.2C486.4 180.2 485.2 179.1 480.8 177.3C476.4 175.5 469.0 173.0 463.9 171.4C458.8 169.8 453.5 168.8 450.0 168.0C446.5 167.2 443.9 167.0 442.7 166.8" stroke="#ff7f0e"/></g>
<path d="M578.9 21.5L591.6 18.4" stroke="#000" stroke-width="1.2" fill="none"/><path d="M597.0 17.1L591.1 20.7L590.1 16.6z" fill="#000"/><path d="M581.8 36.5L599.7 30.0" stroke="#000" stroke-width="1.2" fill="none"/><path d="M605.0 28.1L599.5 32.3L598.1 28.4z" fill="#000"/><path d="M584.7 42.6L603.4 36.5" stroke="#000" stroke-width="1.2" fill="none"/><path d="M608.7 34.7L603.1 38.8L601.8 34.8z" fill="#000"/><path d="M587.6 49.5L607.7 43.0" stroke="#000" stroke-width="1.2" fill="none"/><path d="M613.0 41.3L607.4 45.3L606.1 41.3z" fill="#000"/><path d="M591.9 54.7L607.6 50.5" stroke="#000" stroke-width="1.2" fill="none"/><path d="M613.0 49.0L607.2 52.7L606.1 48.7z" fill="#000"/><path d="M596.2 62.7L609.1 60.8" stroke="#000" stroke-width="1.2" fill="none"/><path d="M614.6 60.0L608.4 63.0L607.8 58.9z" fill="#000"/>
<rect x="412.2" y="4.4" width="311.3" height="251.4" fill="none" stroke="#000" stroke-width="2"/>
<path d="M443.2 255.8v4.6M474.5 255.8v2.4M505.7 255.8v4.6M536.9 255.8v2.4M568.2 255.8v4.6M599.4 255.8v2.4M630.6 255.8v4.6M661.9 255.8v2.4M693.1 255.8v4.6M412.2 255.8h-4.8M412.2 224.4h-2.6M412.2 192.9h-4.8M412.2 161.5h-2.6M412.2 130.1h-4.8M412.2 98.7h-2.6M412.2 67.2h-4.8M412.2 35.8h-2.6M412.2 4.4h-4.8" stroke="#000" stroke-width="1.9" fill="none"/>
<g font-size="10.9"><text x="443.2" y="273" text-anchor="middle">-0.2</text><text x="505.7" y="273" text-anchor="middle">0.0</text><text x="568.2" y="273" text-anchor="middle">0.2</text><text x="630.6" y="273" text-anchor="middle">0.4</text><text x="693.1" y="273" text-anchor="middle">0.6</text><text x="403.6" y="259.5" text-anchor="end">-70</text><text x="403.6" y="196.6" text-anchor="end">-35</text><text x="403.6" y="133.8" text-anchor="end">0</text><text x="403.6" y="71.0" text-anchor="end">35</text><text x="403.6" y="8.1" text-anchor="end">70</text></g>
<text x="419.2" y="21.8" font-size="13">(B)</text>
<text x="568" y="293" font-size="13" text-anchor="middle">Potential/V</text>
<text transform="translate(375,122.5) rotate(-90)" font-size="13" text-anchor="middle">Current/ <tspan font-weight="normal">&#956;</tspan> A</text>
<g font-size="11.7">
<text x="602.3" y="20">b</text>
<text x="606.3" y="29.3">a</text>
<text x="609.6" y="37.5">c</text>
<text x="613.5" y="45.7">f</text>
<text x="613.5" y="54.5">d</text>
<text x="615.1" y="63.2">e</text>
</g>
</svg>
</body></html>
